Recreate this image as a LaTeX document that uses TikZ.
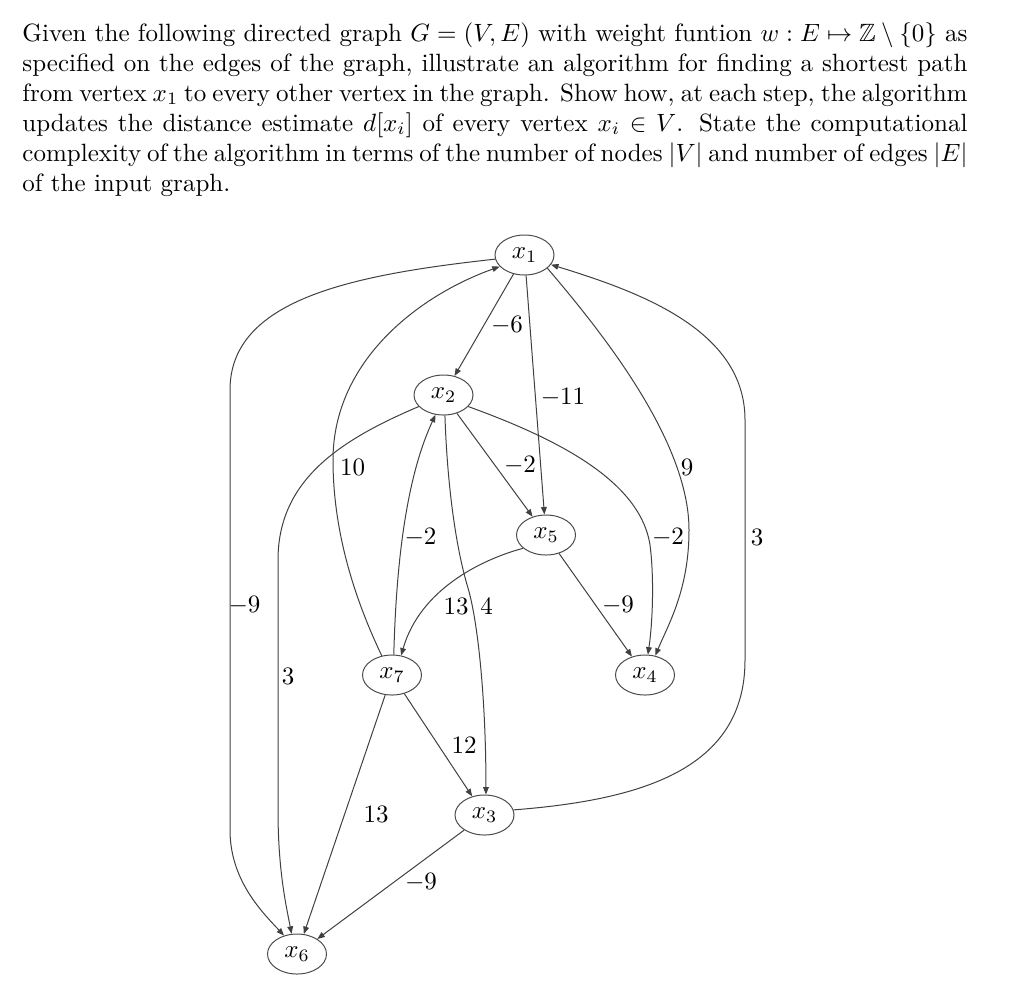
\documentclass[tikz,border=0pt]{standalone}
\usepackage{amssymb}
\usetikzlibrary{shapes.geometric,arrows.meta}
\begin{document}
\begin{tikzpicture}[x=0.4pt,y=0.4pt,
  vtx/.style={draw=black!70,line width=0.4pt,ellipse,minimum width=23.6pt,minimum height=16pt,inner sep=0pt},
  arr/.style={draw=black!75,line width=0.4pt,-{Triangle[length=3pt,width=2.3pt]}},
  lbl/.style={inner sep=0pt,font=\normalsize}]
\useasboundingbox (0,0) rectangle (1024,-996);

% question text
\node[anchor=base west,inner sep=0pt] (txt) at (22,-41) {\parbox[t]{378pt}{%
Given the following directed graph $G=(V,E)$ with weight funtion $w:E\mapsto\mathbb{Z}\setminus\{0\}$ as\linebreak
specified on the edges of the graph, illustrate an algorithm for finding a shortest path\linebreak
from vertex $x_1$ to every other vertex in the graph. Show how, at each step, the algorithm\linebreak
updates the distance estimate $d[x_i]$ of every vertex $x_i\in V$. State the computational\linebreak
complexity of the algorithm in terms of the number of nodes $|V|$ and number of edges $|E|$\linebreak
of the input graph.}};

% vertices
\node[vtx] (x1) at (524.5,-255) {$x_1$};
\node[vtx] (x2) at (443.5,-395) {$x_2$};
\node[vtx] (x5) at (546,-535) {$x_5$};
\node[vtx] (x7) at (392,-675) {$x_7$};
\node[vtx] (x4) at (645,-675) {$x_4$};
\node[vtx] (x3) at (484.5,-815) {$x_3$};
\node[vtx] (x6) at (297,-954) {$x_6$};

% helper coordinates
\coordinate (c9) at (689,-530);
\coordinate (cL1) at (230,-390);
\coordinate (cL2) at (230,-830);
\coordinate (c10) at (333,-460);
\coordinate (cR1) at (745,-660);
\coordinate (cR2) at (745,-420);
\coordinate (c3a) at (278,-560);
\coordinate (c3b) at (278,-810);
\coordinate (c4) at (468,-588);
\coordinate (c2r) at (650,-545);

% edges
\draw[arr] (x1) -- (x2);
\draw[arr] (x1) -- (x5);
\draw[arr] (x1.-30) .. controls (600,-330) and (689,-440) .. (c9)
                    .. controls (689,-590) and (668,-625) .. (x4.62);
\draw[arr] (x1.188) .. controls (350,-275) and (230,-300) .. (cL1) -- (cL2)
                    .. controls (230,-880) and (262,-912) .. (x6.125);
\draw[arr] (x7.118) .. controls (360,-610) and (333,-540) .. (c10)
                    .. controls (333,-360) and (420,-295) .. (x1.205);
\draw[arr] (x3.10) .. controls (640,-800) and (745,-770) .. (cR1) -- (cR2)
                   .. controls (745,-330) and (640,-292) .. (x1.-20);
\draw[arr] (x2.205) .. controls (340,-440) and (278,-480) .. (c3a) -- (c3b)
                    .. controls (278,-870) and (286,-905) .. (x6.105);
\draw[arr] (x7.85) .. controls (396,-570) and (405,-480) .. (x2.-112);
\draw[arr] (x2.-86) .. controls (447,-480) and (455,-545) .. (c4)
                    .. controls (478,-622) and (486,-700) .. (x3.86);
\draw[arr] (x2) -- (x5);
\draw[arr] (x2.-25) .. controls (555,-438) and (640,-480) .. (c2r)
                    .. controls (654,-575) and (653,-620) .. (x4.82);
\draw[arr] (x5) -- (x4);
\draw[arr] (x5.210) .. controls (480,-560) and (420,-590) .. (x7.65);
\draw[arr] (x7) -- (x3);
\draw[arr] (x7) -- (x6);
\draw[arr] (x3) -- (x6);

% edge labels
\node[lbl] (l16) at (507,-325) {$-6$};
\node[lbl] (l15) at (563,-397) {$-11$};
\node[lbl] (l14) at (687,-467) {$9$};
\node[lbl] (l16b) at (244.5,-605) {$-9$};
\node[lbl] (l71) at (352.5,-467) {$10$};
\node[lbl] (l31) at (757,-537) {$3$};
\node[lbl] (l26) at (288,-676) {$3$};
\node[lbl] (l72) at (420.5,-537) {$-2$};
\node[lbl] (l25) at (520,-465) {$-2$};
\node[lbl] (l24) at (668,-537) {$-2$};
\node[lbl] (l57) at (456,-606) {$13$};
\node[lbl] (l23) at (486.5,-606) {$4$};
\node[lbl] (l54) at (618,-605) {$-9$};
\node[lbl] (l73) at (464,-745) {$12$};
\node[lbl] (l76) at (376,-814) {$13$};
\node[lbl] (l36) at (421,-882) {$-9$};
\end{tikzpicture}
\end{document}
